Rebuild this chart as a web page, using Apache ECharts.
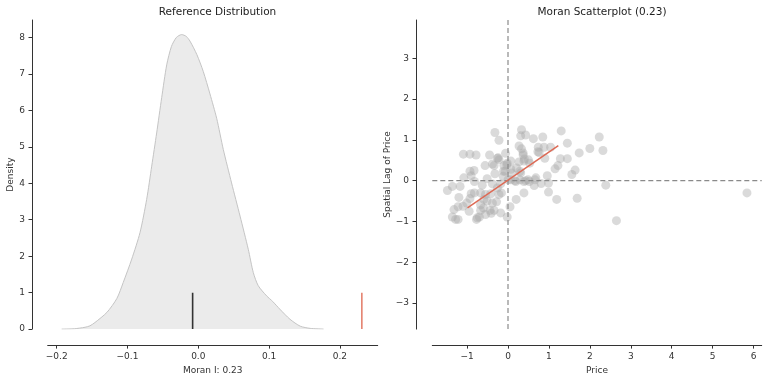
<!DOCTYPE html>
<html><head><meta charset="utf-8">
<script src="https://cdn.jsdelivr.net/npm/echarts@6/dist/echarts.min.js"></script>
<style>html,body{margin:0;padding:0;background:#fff}#c{width:768px;height:380px}</style>
</head><body><div id="c"></div>
<script>
// Reference distribution (KDE of permuted Moran's I)
const kdeX = [-0.193,-0.175,-0.160,-0.153,-0.146,-0.129,-0.115,-0.106,-0.094,-0.0823,-0.0729,-0.0658,-0.0588,-0.0517,-0.0446,-0.038,-0.031,-0.0235,-0.017,-0.0117,-0.002,0.007,0.0165,0.026,0.0353,0.047,0.059,0.0706,0.0777,0.0847,0.0966,0.105,0.115,0.1295,0.144,0.158,0.177];
const kdeY = [0,0.01,0.05,0.09,0.18,0.46,0.84,1.28,1.92,2.65,3.56,4.47,5.38,6.35,7.25,7.75,8.0,8.08,8.03,7.90,7.53,7.07,6.45,5.78,4.93,4.01,3.10,2.19,1.55,1.19,0.91,0.76,0.55,0.27,0.08,0.02,0];
const expectedI = -0.008;
const observedI = 0.231;
const markerHeight = 1;
const distXTicks = [-0.2,-0.1,0,0.1,0.2];
const distYTicks = [0,1,2,3,4,5,6,7,8];

// Moran scatterplot
const priceX = [-0.32,-0.22,0.33,0.31,0.43,0.62,0.85,1.30,1.45,2.23,2.32,2.00,1.74,1.45,1.28,1.64,1.56,1.22,1.15,0.96,2.39,5.84,2.65,1.69,1.19,0.99,0.81,0.64,0.68,0.52,0.43,0.39,0.20,0.05,-0.02,0.74,0.88,1.04,0.76,0.90,0.27,0.33,0.37,0.39,0.50,0.53,0.27,0.07,-0.06,-0.02,-0.10,-0.11,-0.12,0.07,0.17,0.31,0.21,-0.22,-0.26,-0.45,-0.38,-0.56,-0.34,-0.32,-0.51,-0.38,-0.18,-0.26,-0.42,-0.22,-0.16,-0.63,-0.67,-0.55,-0.51,-0.38,-0.28,-0.60,-0.67,-0.44,-0.41,-0.34,-0.18,-0.55,-0.75,-0.70,-0.77,-0.82,-0.90,-0.83,-0.93,-1.08,-1.17,-1.36,-1.48,-1.20,-1.32,-1.22,-1.10,-1.01,-0.93,-0.90,-0.82,-0.95,-1.36,-1.28,-1.22,-1.09,-0.93,-0.78,-0.67,-0.59,0.07,0.19,0.39,0.66,0.49,0.29,0.00,0.09,0.29,-0.07,-0.03,0.40,0.73,0.37,-0.24,0.99];
const lagY = [1.18,0.99,1.25,1.10,1.12,1.03,1.07,1.22,0.92,1.07,0.74,0.79,0.68,0.54,0.54,0.26,0.15,0.37,0.29,0.12,-0.11,-0.30,-0.98,-0.43,-0.46,-0.28,-0.07,-0.12,0.07,-0.02,0.00,-0.30,-0.46,-0.64,-0.89,0.82,0.82,0.82,0.69,0.55,0.85,0.78,0.63,0.48,0.51,0.43,0.46,0.48,0.67,0.43,0.37,0.23,0.11,0.02,0.00,0.19,0.31,0.51,0.55,0.63,0.41,0.37,0.37,0.17,0.05,-0.08,-0.08,-0.18,-0.32,-0.34,-0.30,-0.11,-0.30,-0.34,-0.50,-0.55,-0.52,-0.67,-0.73,-0.73,-0.80,-0.73,-0.79,-0.83,-0.91,-0.89,-0.95,-0.02,0.12,0.25,0.23,0.07,-0.14,-0.14,-0.24,-0.41,-0.71,-0.64,-0.63,-0.55,-0.44,-0.32,-0.30,-0.75,-0.89,-0.95,-0.95,0.65,0.65,0.63,-0.59,-0.46,0.28,-0.02,-0.02,0.02,0.02,0.02,0.02,0.19,0.23,0.23,0.39,0.53,0.71,0.68,0.56,-0.06];
const fitX = [-0.99, 1.23];
const fitY = [-0.67, 0.86];
const scatXTicks = [-1,0,1,2,3,4,5,6];
const scatYTicks = [-3,-2,-1,0,1,2,3];

const FONT = 'DejaVu Sans';
const TXT = '#333';
const fmt1 = v => (v < 0 ? '\u2212' : '') + Math.abs(v).toFixed(1);
const fmt0 = v => (v < 0 ? '\u2212' : '') + Math.abs(Math.round(v));

function axis(base, ticks, fmt, extra) {
  return Object.assign({
    type: 'value',
    axisLine: { show: true, onZero: false, lineStyle: { color: TXT, width: 1 } },
    axisTick: { show: true, customValues: ticks, length: 3.5, lineStyle: { color: TXT } },
    axisLabel: { customValues: ticks, formatter: fmt, color: TXT, fontSize: 9, fontFamily: FONT, margin: 7 },
    splitLine: { show: false },
    nameLocation: 'middle',
    nameTextStyle: { color: TXT, fontSize: 9, fontFamily: FONT }
  }, base, extra || {});
}

const chart = echarts.init(document.getElementById('c'), null, { renderer: 'canvas' });
chart.setOption({
  animation: false,
  backgroundColor: '#fff',
  title: [
    { text: 'Reference Distribution', left: 212.5, top: 2, textAlign: 'center', textStyle: { fontFamily: FONT, fontSize: 10.5, fontWeight: 'normal', color: '#222' } },
    { text: 'Moran Scatterplot (0.23)', left: 597, top: 2, textAlign: 'center', textStyle: { fontFamily: FONT, fontSize: 10.5, fontWeight: 'normal', color: '#222' } }
  ],
  grid: [
    { left: 47.7, top: 20, width: 330, height: 310 },
    { left: 432.3, top: 20, width: 329.4, height: 310 }
  ],
  xAxis: [
    axis({ gridIndex: 0, min: -0.2127, max: 0.2534, offset: 16, name: 'Moran I: 0.23', nameGap: 18 }, distXTicks, fmt1),
    axis({ gridIndex: 1, min: -1.85, max: 6.20, offset: 16, name: 'Price', nameGap: 18 }, scatXTicks, fmt0)
  ],
  yAxis: [
    axis({ gridIndex: 0, min: 0, max: 8.48, offset: 15.7, name: 'Density', nameGap: 17 }, distYTicks, fmt0),
    axis({ gridIndex: 1, min: -3.64, max: 3.94, offset: 16.3, name: 'Spatial Lag of Price', nameGap: 21 }, scatYTicks, fmt0)
  ],
  series: [
    { type: 'line', xAxisIndex: 0, yAxisIndex: 0, data: kdeX.map((x, i) => [x, kdeY[i]]), smooth: 0.25, showSymbol: false, symbol: 'none',
      lineStyle: { color: '#c4c4c4', width: 1 }, areaStyle: { color: '#ebebeb', opacity: 1 }, z: 2 },
    { type: 'line', xAxisIndex: 0, yAxisIndex: 0, data: [[expectedI, 0], [expectedI, markerHeight]], symbol: 'none',
      lineStyle: { color: '#333', width: 1.6 }, z: 3 },
    { type: 'line', xAxisIndex: 0, yAxisIndex: 0, data: [[observedI, 0], [observedI, markerHeight]], symbol: 'none',
      lineStyle: { color: '#e4826f', width: 1.6 }, z: 3 },
    { type: 'scatter', xAxisIndex: 1, yAxisIndex: 1, data: priceX.map((x, i) => [x, lagY[i]]), symbolSize: 9,
      itemStyle: { color: 'rgba(170,170,170,0.55)' }, z: 2 },
    { type: 'line', xAxisIndex: 1, yAxisIndex: 1, data: [[0, -3.64], [0, 3.94]], symbol: 'none',
      lineStyle: { color: '#8a8a8a', width: 1.2, type: [5, 3] }, z: 3 },
    { type: 'line', xAxisIndex: 1, yAxisIndex: 1, data: [[-1.85, 0], [6.20, 0]], symbol: 'none',
      lineStyle: { color: '#8a8a8a', width: 1.2, type: [5, 3] }, z: 3 },
    { type: 'line', xAxisIndex: 1, yAxisIndex: 1, data: fitX.map((x, i) => [x, fitY[i]]), symbol: 'none',
      lineStyle: { color: '#dd6a55', width: 1.5 }, z: 4 }
  ]
});
</script>
</body></html>
